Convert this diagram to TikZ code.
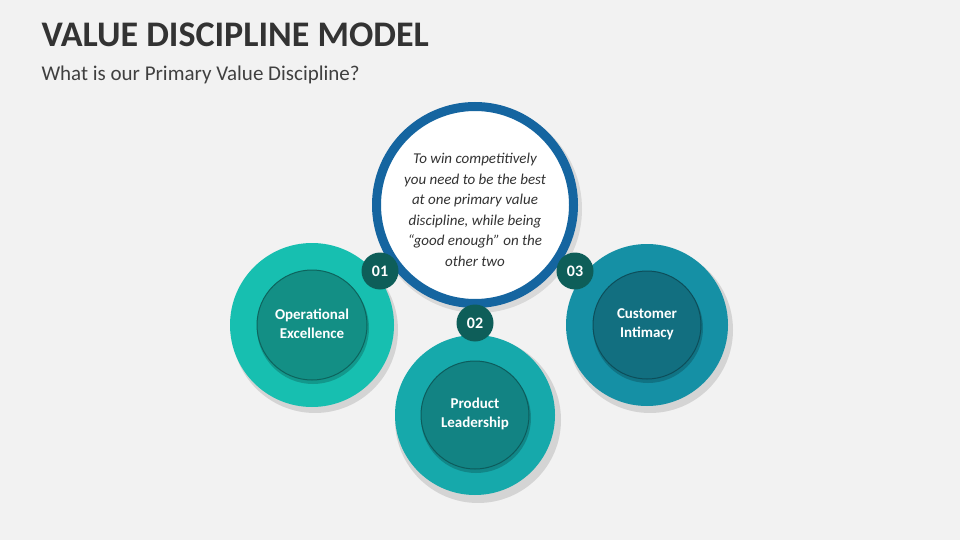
\documentclass[tikz,border=0pt]{standalone}
\usepackage{fontspec}
\setmainfont{Carlito}
\begin{document}
\begin{tikzpicture}[x=1pt,y=-1pt,
  outerc/.style={circle,minimum size=#1,inner sep=0pt},
  lbl/.style={text=white,font=\bfseries\fontsize{15}{19}\selectfont,align=center},
  badge/.style={circle,fill=badgec,minimum size=37pt,inner sep=0pt,text=white,font=\bfseries\fontsize{16}{18}\selectfont}]
\definecolor{bg}{HTML}{F2F2F2}
\definecolor{badgec}{HTML}{0E5E59}
\definecolor{ringc}{HTML}{1565A0}
\definecolor{loc}{HTML}{17BFB0}\definecolor{lic}{HTML}{138F85}
\definecolor{moc}{HTML}{16A9AB}\definecolor{mic}{HTML}{128383}
\definecolor{roc}{HTML}{1590A5}\definecolor{ric}{HTML}{126F80}
\fill[bg] (0,0) rectangle (960,540);
\node[anchor=west,font=\bfseries\fontsize{36}{40}\selectfont,text=black!80] (title) at (38,35) {VALUE DISCIPLINE MODEL};
\node[anchor=west,font=\fontsize{21}{24}\selectfont,text=black!75] (sub) at (38,75) {What is our Primary Value Discipline?};
% shadows
\foreach \x/\y in {312/325,475/415,647/325}{\fill[black,opacity=0.12] (\x+3,\y+5) circle (83);}
\fill[black,opacity=0.1] (478,209) circle (104);
% big ring
\node[circle,draw=ringc,line width=9pt,fill=white,minimum size=197pt,inner sep=0pt] (ring) at (475,205) {};
\node[font=\itshape\fontsize{15}{20.5}\selectfont,text=black!80,align=center] (rtext) at (475,210) {To win competitively\\you need to be the best\\at one primary value\\discipline, while being\\“good enough” on the\\other two};
% circles
\node[outerc=164pt,fill=loc] (lo) at (312,325) {};
\fill[black,opacity=0.2] (lo.center)++(1,3) circle (56);
\node[outerc=110pt,fill=lic,draw=black!30!lic,line width=1pt] (li) at (312,325) {};
\node[lbl] (lt) at (312,324) {Operational\\Excellence};
\node[outerc=160pt,fill=moc] (mo) at (475,415) {};
\fill[black,opacity=0.2] (mo.center)++(1,3) circle (55);
\node[outerc=108pt,fill=mic,draw=black!30!mic,line width=1pt] (mi) at (475,415) {};
\node[lbl] (mt) at (475,414) {Product\\Leadership};
\node[outerc=162pt,fill=roc] (ro) at (647,325) {};
\fill[black,opacity=0.2] (ro.center)++(1,3) circle (55);
\node[outerc=108pt,fill=ric,draw=black!30!ric,line width=1pt] (ri) at (647,325) {};
\node[lbl] (rt) at (647,324) {Customer\\Intimacy};
\node[badge] (b1) at (380,271) {01};
\node[badge] (b2) at (475,323) {02};
\node[badge] (b3) at (575,271) {03};
\end{tikzpicture}
\end{document}
